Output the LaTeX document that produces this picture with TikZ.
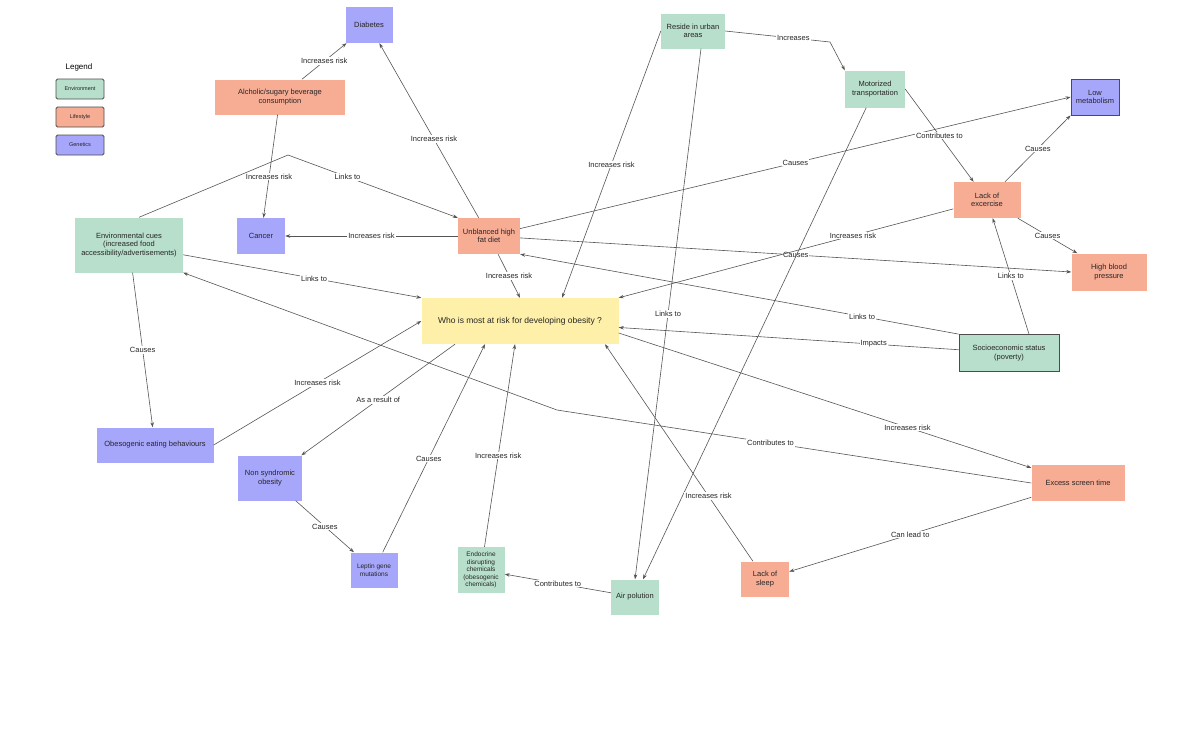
\documentclass[tikz,border=0pt]{standalone}
\usepackage{fontspec}
\setmainfont{Liberation Sans}
\usetikzlibrary{arrows.meta}
\definecolor{env}{HTML}{B7DFCB}
\definecolor{life}{HTML}{F7AC94}
\definecolor{gen}{HTML}{A6A6FA}
\definecolor{cen}{HTML}{FEF0A8}
\definecolor{ln}{HTML}{555555}
\begin{document}
\begin{tikzpicture}[x=1pt,y=-1pt,
  box/.style={rectangle,minimum width=#1,align=center,font=\fontsize{7.5}{8.5}\selectfont,text=black!85,inner sep=1pt},
  envb/.style={box=#1,fill=env},
  lifeb/.style={box=#1,fill=life},
  genb/.style={box=#1,fill=gen},
  legb/.style={box=48,minimum height=20,draw=black!70,thick,rounded corners=1.5,font=\fontsize{5.5}{6}\selectfont},
  arr/.style={draw=ln,line width=0.6pt,-{Stealth[length=5pt,width=3.5pt]}},
  lab/.style={fill=white,inner sep=1pt,font=\fontsize{7.5}{8.5}\selectfont,text=black!85}]
\useasboundingbox (0,0) rectangle (1200,750);
% legend
\node[font=\fontsize{8}{9}\selectfont] at (79,67) {Legend};
\node[legb,fill=env] at (80,89) {Environment};
\node[legb,fill=life] at (80,117) {Lifestyle};
\node[legb,fill=gen] at (80,145) {Genetics};
% nodes
\node[genb=47,minimum height=36] (dia) at (369,25) {Diabetes};
\node[lifeb=130,minimum height=35] (alc) at (280,97) {Alcholic/sugary beverage\\consumption};
\node[genb=48,minimum height=36] (can) at (261,236) {Cancer};
\node[envb=108,minimum height=55] (envc) at (129,245) {Environmental cues\\(increased food\\accessibility/advertisements)};
\node[lifeb=62,minimum height=36] (unb) at (489,236) {Unblanced high\\fat diet};
\node[box=197,minimum height=46,fill=cen,font=\fontsize{8.5}{9.5}\selectfont] (c) at (520,321) {Who is most at risk for developing obesity ?};
\node[envb=64,minimum height=35] (res) at (693,31) {Reside in urban\\areas};
\node[envb=60,minimum height=37] (mot) at (875,89) {Motorized\\transportation};
\node[genb=48,minimum height=36,draw=black!70,thick] (low) at (1095,97) {Low\\metabolism};
\node[lifeb=67,minimum height=36] (lack) at (987,200) {Lack of\\excercise};
\node[lifeb=75,minimum height=37] (hb) at (1109,272) {High blood\\pressure};
\node[envb=100,minimum height=37,draw=black!70,thick] (soc) at (1009,353) {Socioeconomic status\\(poverty)};
\node[lifeb=93,minimum height=36] (scr) at (1078,483) {Excess screen time};
\node[genb=117,minimum height=35] (obe) at (155,445) {Obesogenic eating behaviours};
\node[genb=64,minimum height=45] (non) at (270,478) {Non syndromic\\obesity};
\node[genb=47,minimum height=35,font=\fontsize{6.5}{7.5}\selectfont] (lep) at (374,570) {Leptin gene\\mutations};
\node[envb=47,minimum height=46,font=\fontsize{6.5}{7.5}\selectfont] (endo) at (481,570) {Endocrine\\disrupting\\chemicals\\(obesogenic\\chemicals)};
\node[envb=48,minimum height=35] (air) at (635,597) {Air polution};
\node[lifeb=48,minimum height=35] (sleep) at (765,579) {Lack of\\sleep};
\coordinate (b1) at (288,155);
\coordinate (b2) at (830,42);
\coordinate (b3) at (557,410);
% edges
\draw[arr] (alc) -- node[lab]{Increases risk} (dia);
\draw[arr] (alc) -- node[lab,pos=0.6]{Increases risk} (can);
\draw[arr] (unb) -- node[lab,pos=0.45]{Increases risk} (dia);
\draw[arr] (unb) -- node[lab]{Increases risk} (can);
\draw[arr] ([xshift=10]envc.north) -- (b1) -- node[lab,pos=0.35]{Links to} (unb.north west);
\draw[arr] (envc) -- node[lab,pos=0.55]{Links to} (c.north west);
\draw[arr] (unb) -- node[lab]{Increases risk} (c.north);
\draw[arr] (unb) -- node[lab]{Causes} (low.west);
\draw[arr] (unb) -- node[lab,pos=0.5]{Causes} (hb.west);
\draw[arr] (soc.north west) -- node[lab,pos=0.22]{Links to} (unb.south east);
\draw[arr] (res.west) -- node[lab,pos=0.5]{Increases risk} ([xshift=42]c.north);
\draw[arr] ([xshift=8]res.south) -- node[lab,pos=0.5]{Links to} (air.north);
\draw[arr] (res.east) -- node[lab,pos=0.65]{Increases} (b2) -- (mot.north west);
\draw[arr] (mot) -- ([xshift=8]air.north);
\draw[arr] (mot.east) -- node[lab]{Contributes to} (lack);
\draw[arr] (lack) -- node[lab]{Causes} (low.south west);
\draw[arr] (lack) -- node[lab]{Causes} (hb);
\draw[arr] (lack) -- node[lab,pos=0.3]{Increases risk} (c.north east);
\draw[arr] ([xshift=20]soc.north) -- node[lab]{Links to} (lack);
\draw[arr] (soc) -- node[lab,pos=0.25]{Impacts} (c);
\draw[arr] (c.east) ++(0,12) -- node[lab,pos=0.7]{Increases risk} (scr);
\draw[arr] (scr.west) -- node[lab,pos=0.55]{Contributes to} (b3) -- (envc.south east);
\draw[arr] (scr) -- node[lab,pos=0.5]{Can lead to} (sleep);
\draw[arr] (sleep) -- node[lab,pos=0.3]{Increases risk} ([xshift=85]c.south);
\draw[arr] (envc) -- node[lab]{Causes} (obe);
\draw[arr] (obe.east) -- node[lab]{Increases risk} (c.west);
\draw[arr] ([xshift=-65]c.south) -- node[lab]{As a result of} (non);
\draw[arr] (non) -- node[lab]{Causes} (lep);
\draw[arr] (lep) -- node[lab,pos=0.45]{Causes} ([xshift=-35]c.south);
\draw[arr] (endo) -- node[lab,pos=0.45]{Increases risk} ([xshift=-5]c.south);
\draw[arr] (air) -- node[lab]{Contributes to} (endo);
\end{tikzpicture}
\end{document}
